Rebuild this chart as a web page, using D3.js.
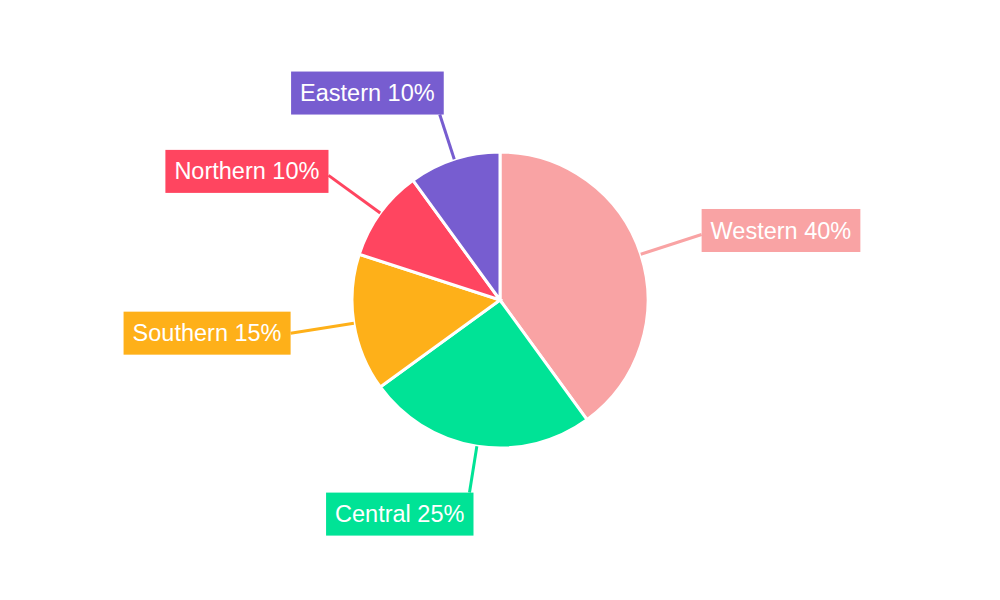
<!DOCTYPE html>
<html><head><meta charset="utf-8">
<script src="https://cdn.jsdelivr.net/npm/d3@7"></script>
<style>body{margin:0;background:#fff}</style>
</head><body>
<div id="chart"></div>
<script>
const regions = ['Western', 'Central', 'Southern', 'Northern', 'Eastern'];
const shares = [40, 25, 15, 10, 10];
const colors = ['#f9a3a4', '#00e396', '#feb019', '#ff4560', '#775dd0'];

const width = 1000, height = 600;
const cx = 500, cy = 300, r = 148;

const svg = d3.select('#chart').append('svg')
  .attr('width', width).attr('height', height);
const g = svg.append('g').attr('transform', `translate(${cx},${cy})`);

const data = regions.map((name, i) => ({ name, value: shares[i], color: colors[i] }));
const arcs = d3.pie().value(d => d.value).sort(null)(data);
const arc = d3.arc().innerRadius(0).outerRadius(r);

g.selectAll('path.slice').data(arcs).enter().append('path')
  .attr('class', 'slice')
  .attr('d', arc)
  .attr('fill', d => d.data.color)
  .attr('stroke', '#fff')
  .attr('stroke-width', 3);

const pt = (a, rad) => [Math.sin(a) * rad, -Math.cos(a) * rad];

arcs.forEach(d => {
  const mid = (d.startAngle + d.endAngle) / 2;
  const vertical = Math.abs(Math.cos(mid)) > 0.8;
  const lineR = vertical ? 195 : 212;
  const [x0, y0] = pt(mid, r);
  const [x1, y1] = pt(mid, lineR);
  g.append('line')
    .attr('x1', x0).attr('y1', y0).attr('x2', x1).attr('y2', y1)
    .attr('stroke', d.data.color).attr('stroke-width', 3);

  const lg = g.append('g');
  const txt = lg.append('text')
    .attr('font-family', 'Liberation Sans, Arial, sans-serif')
    .attr('font-size', 23.5)
    .attr('fill', '#fff')
    .attr('dominant-baseline', 'central')
    .text(`${d.data.name} ${d.data.value}%`);
  const bb = txt.node().getBBox();
  const pad = 9, bw = bb.width + pad * 2, bh = 43;
  let bx, by;
  if (vertical) {
    bx = x1 + 4 - bw;
    by = Math.cos(mid) > 0 ? y1 - bh : y1;
  } else if (Math.sin(mid) > 0) {
    bx = x1; by = y1 - bh / 2 - 4;
  } else {
    bx = x1 - bw; by = y1 - bh / 2 - (Math.cos(mid) > 0 ? 4 : 0);
  }
  lg.insert('rect', 'text')
    .attr('x', bx).attr('y', by).attr('width', bw).attr('height', bh)
    .attr('fill', d.data.color);
  txt.attr('x', bx + pad).attr('y', by + bh / 2);
});
</script>
</body></html>
